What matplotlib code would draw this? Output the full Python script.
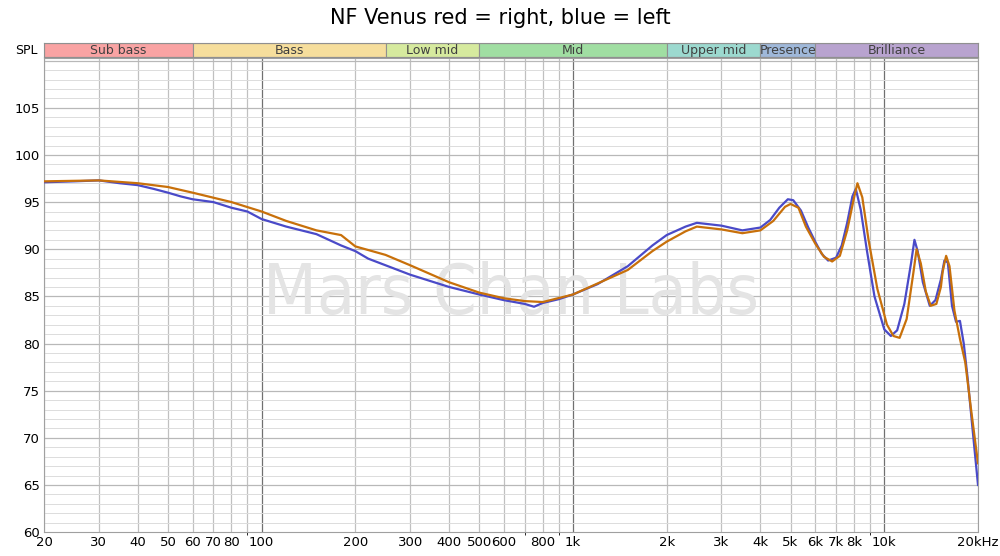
import matplotlib.pyplot as plt
from matplotlib.ticker import FixedLocator, NullFormatter

# left channel (blue)
left_f = [20, 25, 30, 35, 40, 45, 50, 55, 60, 70, 80, 90, 100, 120, 150, 180, 200, 220, 250, 300,
          400, 500, 600, 700, 750, 800, 900, 1000, 1200, 1500, 1800, 2000, 2300, 2500, 3000, 3500,
          4000, 4300, 4600, 4900, 5100, 5400, 5700, 6000, 6300, 6600, 7000, 7300, 7600, 7900, 8100,
          8400, 8800, 9300, 10000, 10500, 11000, 11600, 12200, 12500, 12800, 13300, 14000, 14600,
          15200, 15600, 16000, 16500, 17000, 17500, 18000, 18500, 19200, 20000]
left_db = [97.1, 97.2, 97.3, 97.0, 96.8, 96.4, 96.0, 95.6, 95.3, 95.0, 94.4, 94.0, 93.2, 92.4, 91.6,
           90.4, 89.8, 89.0, 88.3, 87.3, 86.0, 85.2, 84.6, 84.2, 83.9, 84.3, 84.7, 85.2, 86.3, 88.2,
           90.4, 91.5, 92.4, 92.8, 92.5, 92.0, 92.3, 93.1, 94.4, 95.3, 95.2, 94.1, 92.3, 90.8, 89.5,
           88.8, 89.1, 90.4, 92.8, 95.6, 96.4, 94.2, 89.8, 85.0, 81.5, 80.8, 81.4, 84.2, 88.6, 91.0,
           89.8, 86.5, 84.0, 84.6, 86.8, 88.8, 88.6, 84.0, 82.3, 82.4, 80.0, 76.5, 71.0, 65.0]

# right channel (orange)
right_f = [20, 30, 40, 50, 60, 80, 100, 120, 150, 180, 200, 250, 300, 400, 500, 600, 700, 800, 1000,
           1500, 1800, 2000, 2300, 2500, 3000, 3500, 4000, 4400, 4800, 5000, 5300, 5600, 6000, 6400,
           6800, 7200, 7600, 8000, 8200, 8500, 8900, 9500, 10200, 10700, 11200, 11800, 12400, 12700,
           13100, 13600, 14100, 14700, 15200, 15400, 15600, 15800, 16200, 16800, 17500, 18200, 19000,
           20000]
right_db = [97.2, 97.3, 97.0, 96.6, 96.0, 95.0, 94.0, 93.0, 92.0, 91.5, 90.3, 89.4, 88.3, 86.5, 85.4,
            84.8, 84.5, 84.4, 85.2, 87.8, 89.8, 90.8, 91.9, 92.4, 92.1, 91.7, 92.0, 93.0, 94.5, 94.8,
            94.4, 92.4, 90.6, 89.2, 88.7, 89.3, 92.0, 95.5, 97.0, 95.5, 91.0, 85.8, 82.0, 80.8, 80.6,
            82.6, 87.5, 90.0, 88.5, 85.5, 84.0, 84.2, 86.0, 87.6, 88.5, 89.3, 88.2, 83.5, 80.5, 78.0,
            73.0, 67.3]

bands = ["Sub bass", "Bass", "Low mid", "Mid", "Upper mid", "Presence", "Brilliance"]
band_edges = [20, 60, 250, 500, 2000, 4000, 6000, 20000]
band_colors = ["#f9a3a3", "#f6de9c", "#d6ea9e", "#a0dea2", "#9cd9cf", "#9fb8d9", "#b8a3cf"]

xticks = [20, 30, 40, 50, 60, 70, 80, 100, 200, 300, 400, 500, 600, 800, 1000, 2000, 3000, 4000,
          5000, 6000, 7000, 8000, 10000, 20000]
xlabels = ["20", "30", "40", "50", "60", "70", "80", "100", "200", "300", "400", "500", "600", "800",
           "1k", "2k", "3k", "4k", "5k", "6k", "7k", "8k", "10k", "20kHz"]
grid_f = [20, 30, 40, 50, 60, 70, 80, 90, 200, 300, 400, 500, 600, 700, 800, 900,
          2000, 3000, 4000, 5000, 6000, 7000, 8000, 9000, 20000]

fig = plt.figure(figsize=(10, 5.56), dpi=100)
ax = fig.add_axes([0.044, 0.043, 0.934, 0.853])
ax.set_xscale("log")
ax.set_xlim(20, 20000)
ax.set_ylim(60, 110.3)

for f in grid_f:
    ax.axvline(f, color="#c0c0c0", lw=0.9, zorder=0)
for f in [100, 1000, 10000]:
    ax.axvline(f, color="#707070", lw=0.9, zorder=0)
for y in range(61, 111):
    if y % 5 == 0:
        ax.axhline(y, color="#b8b8b8", lw=0.9, zorder=0)
    else:
        ax.axhline(y, color="#dcdcdc", lw=0.7, zorder=0)

ax.text(0.5, 0.5, "Mars Chan Labs", transform=ax.transAxes, fontsize=50, color="#e4e4e4",
        ha="center", va="center", zorder=1, fontstretch="condensed")

ax.plot(left_f, left_db, color="#4a4ac8", lw=1.6, zorder=3)
ax.plot(right_f, right_db, color="#c8700a", lw=1.6, zorder=4)

ax.xaxis.set_major_locator(FixedLocator(xticks))
ax.xaxis.set_minor_formatter(NullFormatter())
ax.set_xticklabels(xlabels)
ax.set_yticks(range(60, 110, 5))
ax.tick_params(length=0, labelsize=9.5, pad=3)
for s in ax.spines.values():
    s.set_color("#a0a0a0")

bax = fig.add_axes([0.044, 0.898, 0.934, 0.024])
bax.set_xscale("log")
bax.set_xlim(20, 20000)
bax.set_ylim(0, 1)
for name, lo, hi, c in zip(bands, band_edges[:-1], band_edges[1:], band_colors):
    bax.axvspan(lo, hi, color=c, ec="#909090", lw=0.8)
    bax.text((lo * hi) ** 0.5, 0.45, name, ha="center", va="center", fontsize=9, color="#404040")
bax.set_xticks([])
bax.set_yticks([])
bax.minorticks_off()
for s in bax.spines.values():
    s.set_color("#909090")
fig.text(0.038, 0.91, "SPL", ha="right", va="center", fontsize=9)

fig.suptitle("NF Venus red = right, blue = left", y=0.985, fontsize=15)
fig.savefig("out.png", dpi=100)
